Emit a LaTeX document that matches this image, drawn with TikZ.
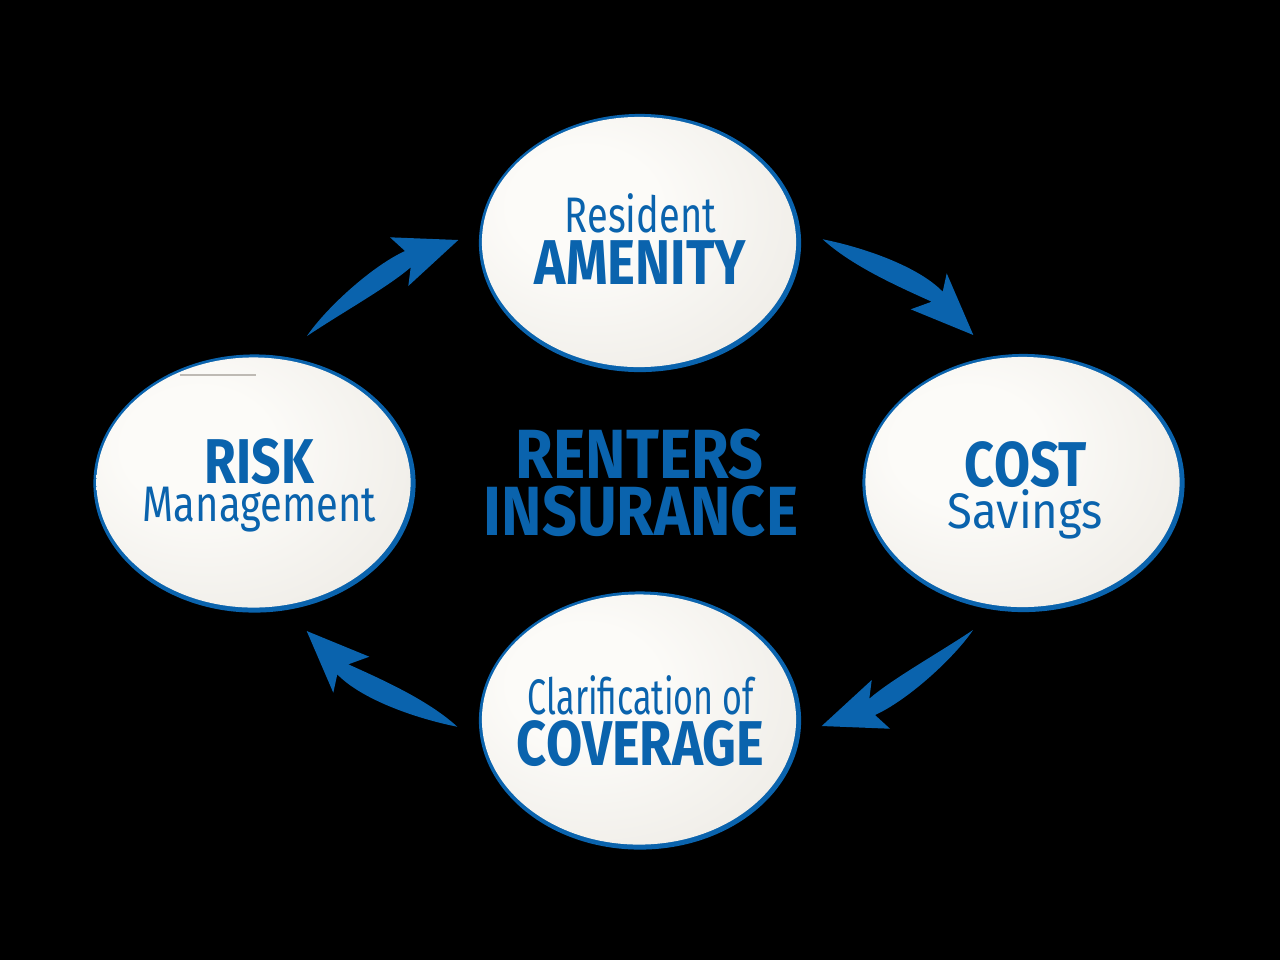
\documentclass[tikz,border=0pt]{standalone}
\usepackage{fontspec}
\setmainfont{Fira Sans}
\usetikzlibrary{shapes.geometric}
\definecolor{brand}{RGB}{10,99,173}
\definecolor{cin}{RGB}{252,251,248}
\definecolor{cout}{RGB}{224,220,212}
\definecolor{hair}{RGB}{190,186,180}
\pgfdeclareradialshading{creamshade}{\pgfpoint{-10bp}{8bp}}{color(0bp)=(cin);color(12bp)=(cin);color(64bp)=(cout);color(100bp)=(cout)}
\newcommand{\fitw}[2]{\resizebox{#1}{\height}{#2}}
\newcommand{\arrowA}{\fill[fat] (307,336) .. controls (326,308) and (372,266) .. (405,251) -- (390,237.3) -- (458.3,240) -- (408.3,286) -- (410.7,267.3) .. controls (388,287) and (343,312) .. cycle;}
\newcommand{\arrowB}{\fill[fat] (822.7,239.3) .. controls (862,247) and (918,266) .. (942.7,291.7) -- (946.7,273.3) -- (973.3,335) -- (910.7,309.3) -- (931.7,301.7) .. controls (897,286) and (852,266) .. cycle;}
\begin{document}
\begin{tikzpicture}[x=0.01cm,y=-0.01cm,
 rim/.style={ellipse, fill=brand, inner sep=0, minimum width=3.22cm, minimum height=2.58cm},
 face/.style={ellipse, shade, shading=creamshade, inner sep=0, minimum width=3.14cm, minimum height=2.50cm},
 lbl/.style={text=brand, inner sep=0, anchor=base},
 big/.style={lbl, font=\bfseries\fontsize{18pt}{18pt}\selectfont},
 small/.style={lbl, font=\fontsize{14.2pt}{14pt}\selectfont},
 hub/.style={lbl, font=\bfseries\fontsize{19.8pt}{20pt}\selectfont},
 fat/.style={fill=brand}]
\fill[black] (0,0) rectangle (1280,960);
\useasboundingbox (0,0) rectangle (1280,960);
% ellipses
\node[rim] (topR) at (640,243) {};
\node[face] (top) at (639,242) {};
\node[rim] (leftR) at (254.5,483.5) {};
\node[face] (left) at (253.5,482.5) {};
\node[rim] (rightR) at (1023.5,483) {};
\node[face] (right) at (1022.5,482) {};
\node[rim] (botR) at (640,720.5) {};
\node[face] (bot) at (639,719.5) {};
\draw[hair, line width=0.35pt] (180,375) -- (256,375);
% labels
\node[small] (t1) at (640.5,232) {\fitw{1.51cm}{Resident}};
\node[big] (t2) at (640.5,284) {\fitw{2.11cm}{AMENITY}};
\node[big] (l1) at (259.5,483) {\fitw{1.09cm}{RISK}};
\node[small] (l2) at (259.5,521) {\fitw{2.33cm}{Management}};
\node[big] (r1) at (1026,486) {\fitw{1.22cm}{COST}};
\node[small] (r2) at (1025.5,528) {\fitw{1.55cm}{Savings}};
\node[small] (b1) at (641,714) {\fitw{2.26cm}{Clarification of}};
\node[big] (b2) at (640.5,765) {\fitw{2.47cm}{COVERAGE}};
\node[hub] (c1) at (639.5,478) {\fitw{2.47cm}{RENTERS}};
\node[hub] (c2) at (641,535) {\fitw{3.14cm}{INSURANCE}};
% arrows
\arrowA
\arrowB
\begin{scope}[rotate around={180:(640,483)}]
\arrowA
\arrowB
\end{scope}
\end{tikzpicture}
\end{document}
